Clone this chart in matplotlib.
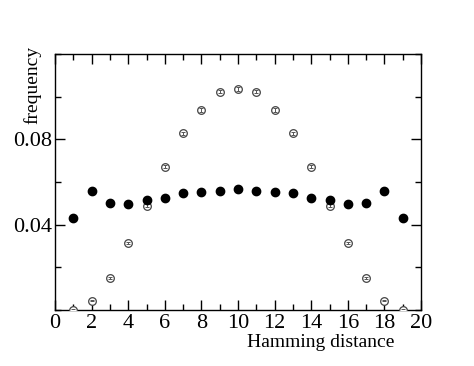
import numpy as np
import matplotlib
matplotlib.use("Agg")
import matplotlib.pyplot as plt
from matplotlib.ticker import MultipleLocator

plt.rcParams['font.family'] = ['Liberation Serif', 'DejaVu Serif']

# Hamming distances
distance = [1, 2, 3, 4, 5, 6, 7, 8, 9, 10, 11, 12, 13, 14, 15, 16, 17, 18, 19]

# open markers (binomial-like)
freq_open = [0.0, 0.0044, 0.0149, 0.0313, 0.0489, 0.0672, 0.0828, 0.0938, 0.1024, 0.1035,
             0.1024, 0.0939, 0.0828, 0.0672, 0.0489, 0.0313, 0.0150, 0.0044, 0.0]
err_open = [0.0004, 0.0004, 0.0004, 0.0005, 0.0006, 0.0007, 0.0008, 0.0009, 0.0009, 0.0009,
            0.0009, 0.0009, 0.0008, 0.0007, 0.0006, 0.0005, 0.0004, 0.0004, 0.0004]

# filled markers (flat)
freq_filled = [0.0433, 0.0556, 0.0500, 0.0498, 0.0516, 0.0525, 0.0547, 0.0552, 0.0558, 0.0567,
               0.0558, 0.0552, 0.0547, 0.0523, 0.0516, 0.0497, 0.0500, 0.0556, 0.0433]

fig = plt.figure(figsize=(4.74, 3.66), dpi=100)
ax = fig.add_axes([55 / 474, 1 - 310 / 366, 366 / 474, 256 / 366])

ax.plot(distance, freq_open, 'o', mfc='white', mec='#444444', ms=5.5, mew=0.9, zorder=3)
ax.errorbar(distance, freq_open, yerr=err_open, fmt='none', ecolor='#555555',
            elinewidth=0.7, capsize=1.6, capthick=0.7, zorder=4)
ax.plot(distance, freq_filled, 'o', color='black', ms=6, zorder=5)

ax.set_xlim(0, 20)
ax.set_ylim(0, 0.12)
ax.xaxis.set_major_locator(MultipleLocator(2))
ax.xaxis.set_minor_locator(MultipleLocator(1))
ax.yaxis.set_minor_locator(MultipleLocator(0.02))
ax.set_yticks([0.04, 0.08])
ax.set_yticklabels(['0.04', '0.08'])

ax.tick_params(which='both', direction='in', top=True, right=True, labelsize=16, width=1)
ax.tick_params(which='major', length=7)
ax.tick_params(which='minor', length=4)
ax.tick_params(axis='x', pad=3)
ax.tick_params(axis='y', pad=2)
for s in ax.spines.values():
    s.set_linewidth(1)

ax.set_xlabel('Hamming distance', fontsize=14, va='top')
ax.xaxis.set_label_coords(0.727, -0.095)
ax.set_ylabel('frequency', fontsize=14)
ax.yaxis.set_label_coords(-0.038, 0.88)

fig.savefig('out.png', dpi=100)
